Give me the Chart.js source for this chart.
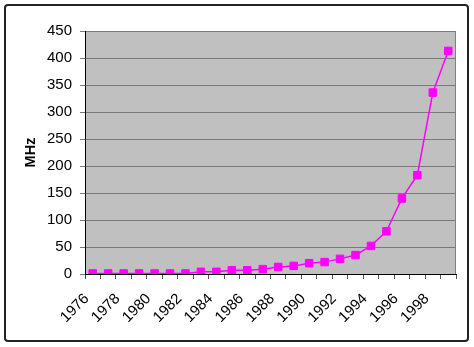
<!DOCTYPE html>
<html>
<head>
<meta charset="utf-8">
<script src="https://cdn.jsdelivr.net/npm/chart.js@4.4.1/dist/chart.umd.min.js"></script>
<style>
  html, body { margin: 0; padding: 0; background: #fff; }
  #wrap { width: 474px; height: 347px; position: relative; }
</style>
</head>
<body>
<div id="wrap"><canvas id="chart" width="474" height="347"></canvas></div>
<script>
// clock speed by year
const years = ['1976', '1977', '1978', '1979', '1980', '1981', '1982', '1983',
               '1984', '1985', '1986', '1987', '1988', '1989', '1990', '1991',
               '1992', '1993', '1994', '1995', '1996', '1997', '1998', '1999'];
const mhz = [1, 1, 1, 1, 1, 1, 1, 4, 4, 7, 7, 9, 13, 15, 20, 22,
             28, 35, 52, 79, 140, 183, 336, 413];
const yMin = 0;
const yMax = 450;
const yStep = 50;
const yTitle = 'MHz';

const font = "'Liberation Sans', Arial, sans-serif";

// gray plot area + frame around the whole picture
const framePlugin = {
    id: 'frame',
    beforeDraw(chart) {
        const ctx = chart.ctx;
        const a = chart.chartArea;
        ctx.save();
        ctx.fillStyle = '#c0c0c0';
        ctx.fillRect(a.left, a.top, a.right - a.left, a.bottom - a.top);
        ctx.strokeStyle = '#808080';
        ctx.lineWidth = 1;
        ctx.strokeRect(a.left + 0.5, a.top + 0.5, a.right - a.left - 1, a.bottom - a.top);
        ctx.restore();
    },
    afterDraw(chart) {
        const ctx = chart.ctx;
        ctx.save();
        ctx.strokeStyle = '#222';
        ctx.lineWidth = 2;
        ctx.beginPath();
        ctx.roundRect(5, 5, 463, 336, 3);
        ctx.stroke();
        ctx.restore();
    }
};

new Chart(document.getElementById('chart'), {
    type: 'line',
    data: {
        labels: years,
        datasets: [{
            data: mhz,
            borderColor: '#ff00ff',
            backgroundColor: '#ff00ff',
            borderWidth: 1.5,
            pointStyle: 'rect',
            pointRadius: 5.3,
            pointBorderWidth: 1,
            pointBorderColor: '#ff00ff',
            pointBackgroundColor: '#ff00ff',
            tension: 0
        }]
    },
    options: {
        responsive: false,
        animation: false,
        devicePixelRatio: 1,
        layout: { padding: { top: 31, right: 18, left: 0, bottom: 0 } },
        plugins: {
            legend: { display: false },
            tooltip: { enabled: false }
        },
        scales: {
            x: {
                offset: true,
                grid: {
                    offset: true,
                    drawOnChartArea: false,
                    drawTicks: true,
                    tickLength: 5,
                    color: '#555'
                },
                border: { display: true, color: '#000', width: 1 },
                ticks: {
                    autoSkip: false,
                    minRotation: 45,
                    maxRotation: 45,
                    padding: 11,
                    labelOffset: -6,
                    color: '#000',
                    font: { family: font, size: 15 },
                    callback: function(val, i) {
                        return i % 2 === 0 ? this.getLabelForValue(val) : '';
                    }
                },
                afterFit: function(scale) { scale.height = 73; }
            },
            y: {
                min: yMin,
                max: yMax,
                grid: {
                    color: '#7a7a7a',
                    tickLength: 5,
                    drawTicks: true
                },
                border: { display: true, color: '#000', width: 1 },
                ticks: {
                    stepSize: yStep,
                    padding: 8,
                    color: '#000',
                    font: { family: font, size: 15 }
                },
                title: {
                    display: true,
                    text: yTitle,
                    color: '#000',
                    font: { family: font, size: 14.5, weight: 'bold' },
                    padding: { top: 22, bottom: 0 }
                },
                afterFit: function(scale) { scale.width = 85; }
            }
        }
    },
    plugins: [framePlugin]
});
</script>
</body>
</html>
